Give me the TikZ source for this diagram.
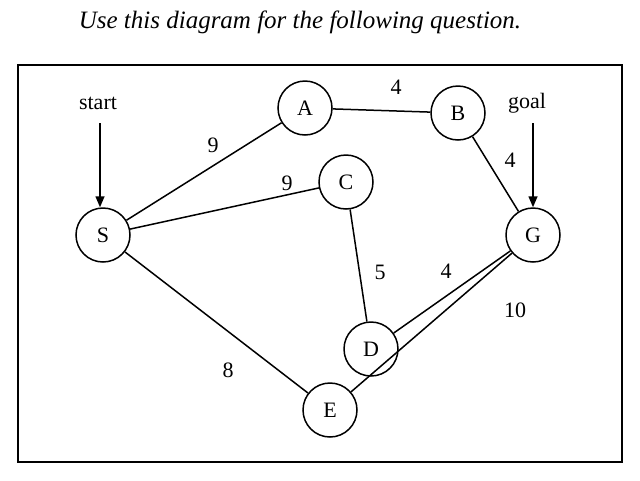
\documentclass[tikz,border=0pt]{standalone}
\usepackage{fontspec}
\setmainfont{Liberation Serif}
\usetikzlibrary{arrows.meta}
\begin{document}
\begin{tikzpicture}[x=1pt,y=-1pt,
  vtx/.style={circle,draw,line width=1.5pt,minimum size=54pt,inner sep=0pt,font=\fontsize{22}{24}\selectfont},
  edge/.style={line width=1.5pt},
  lbl/.style={font=\fontsize{22}{24}\selectfont},
  arr/.style={line width=1.5pt,-{Triangle[length=11pt,width=9pt]}}]
\useasboundingbox (0,0) rectangle (640,480);
\node[font=\fontsize{25}{27}\selectfont\itshape] (title) at (300,22) {Use this diagram for the following question.};
\node[draw,line width=1.5pt,minimum width=604pt,minimum height=397pt,inner sep=0pt] (frame) at (320,263.5) {};
\node[vtx] (S) at (103,235) {S};
\node[vtx] (A) at (305,108) {A};
\node[vtx] (B) at (458,113) {B};
\node[vtx] (C) at (346,182) {C};
\node[vtx] (G) at (533,235) {G};
\node[vtx] (D) at (371,349) {D};
\node[vtx] (E) at (330,410) {E};
\draw[edge] (S) -- (A);
\draw[edge] (S) -- (C);
\draw[edge] (S) -- (E);
\draw[edge] (A) -- (B);
\draw[edge] (B) -- (G);
\draw[edge] (C) -- (D);
\draw[edge] (D) -- (G);
\draw[edge] (E) -- (G);
\node[lbl] (l1) at (396,87) {4};
\node[lbl] (l2) at (213,145) {9};
\node[lbl] (l3) at (287,183) {9};
\node[lbl] (l4) at (510,160) {4};
\node[lbl] (l5) at (380,272) {5};
\node[lbl] (l6) at (446,271) {4};
\node[lbl] (l7) at (515,310) {10};
\node[lbl] (l8) at (228,370) {8};
\node[lbl] (start) at (98,103) {start};
\node[lbl] (goal) at (527,103) {goal};
\coordinate (sa) at (100,123);
\coordinate (ga) at (533,123);
\draw[arr] (sa) -- (S.north -| sa);
\draw[arr] (ga) -- (G.north);
\end{tikzpicture}
\end{document}
